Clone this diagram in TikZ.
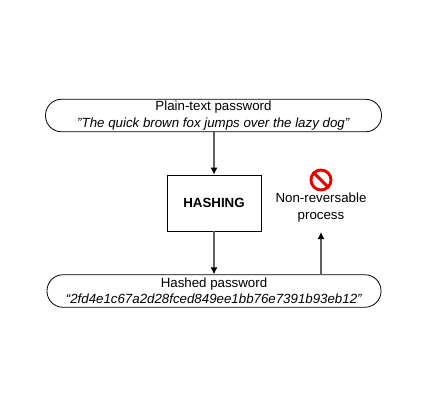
\documentclass[tikz,border=0pt]{standalone}
\usepackage{fontspec}
\setmainfont{Liberation Sans}
\usetikzlibrary{arrows.meta,calc}
\definecolor{linegray}{gray}{0.38}
\definecolor{stopred}{RGB}{235,0,0}
\tikzset{
  x=1pt,y=-1pt,
  pill/.style={draw=black,line width=0.8pt,rounded corners=16pt,minimum width=#1,minimum height=32.5pt,inner sep=0pt,align=center,font=\fontsize{13.3}{16.2}\selectfont},
  procbox/.style={draw=black,line width=0.8pt,minimum width=94pt,minimum height=56pt,inner sep=0pt,font=\fontsize{13.3}{15}\selectfont\bfseries},
  flow/.style={draw=linegray,line width=1.1pt,-{Latex[black,length=7pt,width=7pt]}},
  labeltext/.style={align=center,inner sep=0pt,font=\fontsize{13.3}{16.2}\selectfont},
  stopring/.style={circle,draw=stopred,line width=2.9pt,minimum size=20pt,inner sep=0pt}
}
\begin{document}
\begin{tikzpicture}
\useasboundingbox (0,0) rectangle (430,410);
\node[pill=336pt] (plain) at (213.5,115.5) {Plain-text password\\\textit{"The quick brown fox jumps over the lazy dog"}};
\node[procbox] (hash) at (214,203) {HASHING};
\node[pill=334pt] (hashed) at (214,291) {Hashed password\\\textit{“2fd4e1c67a2d28fced849ee1bb76e7391b93eb12"}};
\node[stopring] (stop) at (321,180) {};
\draw[stopred,line width=2.9pt] (stop.north west) -- (stop.south east);
\node[labeltext] (note) at (321,207.5) {Non-reversable\\process};
\coordinate (noteend) at (321,232);
\draw[flow] (plain.south -| hash.north) -- (hash.north);
\draw[flow] (hash.south) -- (hashed.north -| hash.south);
\draw[flow] (hashed.north -| noteend) -- (noteend);
\end{tikzpicture}
\end{document}
